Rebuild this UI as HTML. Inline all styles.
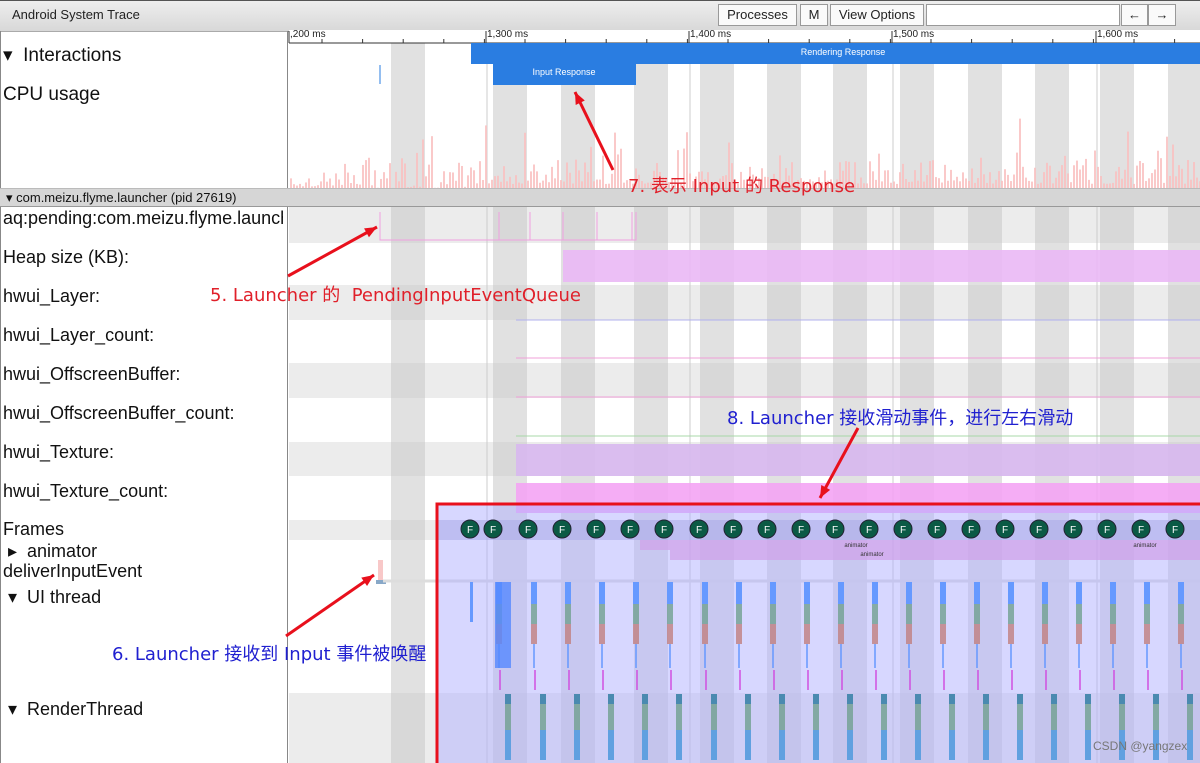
<!DOCTYPE html>
<html><head><meta charset="utf-8"><style>
body{margin:0;width:1200px;height:763px;overflow:hidden;background:#fff;font-family:"Liberation Sans","Noto Sans CJK SC",sans-serif;position:relative}
.a{position:absolute}
.lbl{position:absolute;left:3px;font-size:18px;color:#111;white-space:nowrap}
.btn{position:absolute;top:4px;height:20px;border:1px solid #999;background:#fafafa;font-size:13px;line-height:20px;text-align:center;color:#222}
.ann{position:absolute;font-size:18px;white-space:nowrap;font-family:"DejaVu Sans","Noto Sans CJK SC",sans-serif}
</style></head><body>
<div class="a" style="left:0;top:0;width:1200px;height:30px;background:linear-gradient(#eee,#d8d8d8);border-bottom:1px solid #aaa;border-top:1px solid #555"></div>
<div class="a" style="left:12px;top:7px;font-size:13px;color:#222">Android System Trace</div>
<div class="btn" style="left:718px;width:77px">Processes</div>
<div class="btn" style="left:800px;width:26px">M</div>
<div class="btn" style="left:830px;width:92px">View Options</div>
<div class="btn" style="left:926px;width:192px;background:#fff"></div>
<div class="btn" style="left:1121px;width:25px">←</div>
<div class="btn" style="left:1148px;width:26px">→</div>
<div class="a" style="left:0;top:31px;width:288px;height:732px;border-right:1px solid #888;border-left:1px solid #888;box-sizing:border-box"></div>
<svg class="a" style="left:0;top:0" width="1200" height="763" id="s"></svg>
<div class="lbl" style="top:44px;font-size:19px">▾&nbsp; Interactions</div>
<div class="lbl" style="top:84px;font-size:19px">CPU usage</div>
<div class="a" style="left:0;top:188px;width:1200px;height:19px;background:#d6d6d6;border-bottom:1px solid #999;border-top:1px solid #bbb;box-sizing:border-box"></div>
<div class="a" style="left:6px;top:190px;font-size:13px;color:#111">▾ com.meizu.flyme.launcher (pid 27619)</div>
<div class="lbl" style="top:208px;width:280px;overflow:hidden">aq:pending:com.meizu.flyme.launcher</div>
<div class="lbl" style="top:247px">Heap size (KB):</div>
<div class="lbl" style="top:286px">hwui_Layer:</div>
<div class="lbl" style="top:325px">hwui_Layer_count:</div>
<div class="lbl" style="top:364px">hwui_OffscreenBuffer:</div>
<div class="lbl" style="top:403px">hwui_OffscreenBuffer_count:</div>
<div class="lbl" style="top:442px">hwui_Texture:</div>
<div class="lbl" style="top:481px">hwui_Texture_count:</div>
<div class="lbl" style="top:519px">Frames</div>
<div class="lbl" style="top:541px">&nbsp;▸&nbsp; animator</div>
<div class="lbl" style="top:561px">deliverInputEvent</div>
<div class="lbl" style="top:587px">&nbsp;▾&nbsp; UI thread</div>
<div class="lbl" style="top:699px">&nbsp;▾&nbsp; RenderThread</div>
<div class="ann" style="left:628px;top:172px;color:#e0202a">7. 表示 Input 的 Response</div>
<div class="ann" style="left:210px;top:281px;color:#e0202a">5. Launcher 的&nbsp; PendingInputEventQueue</div>
<div class="ann" style="left:727px;top:404px;color:#2020d0">8. Launcher 接收滑动事件，进行左右滑动</div>
<div class="ann" style="left:112px;top:640px;color:#2020d0">6. Launcher 接收到 Input 事件被唤醒</div>
<div class="a" style="left:1093px;top:739px;font-size:12px;color:#777">CSDN @yangzex</div>
<script>
var s=document.getElementById('s'),h='';
function r(x,y,w,hh,c,o){h+='<rect x="'+x+'" y="'+y+'" width="'+w+'" height="'+hh+'" fill="'+c+'"'+(o?' opacity="'+o+'"':'')+'/>';}
function l(x1,y1,x2,y2,c,w){h+='<line x1="'+x1+'" y1="'+y1+'" x2="'+x2+'" y2="'+y2+'" stroke="'+c+'" stroke-width="'+(w||1)+'"/>';}
function t(x,y,tx,sz,c,a){h+='<text x="'+x+'" y="'+y+'" font-size="'+sz+'" fill="'+c+'" font-family="Liberation Sans,sans-serif"'+(a?' text-anchor="middle"':'')+'>'+tx+'</text>';}
[[207,36],[285,35],[363,35],[442,34],[520,20],[693,70]].forEach(function(a){r(289,a[0],911,a[1],'#ececec');});
[391,493,561,634,700,767,833,900,968,1035,1100,1168].forEach(function(x){r(x,43,34,720,'#c8c8c8',0.55);});
l(487,43,487,763,'#ccc');l(690,43,690,763,'#ccc');l(893,43,893,763,'#ccc');l(1097,43,1097,763,'#ccc');
r(289,30,911,13,'#fff');l(289,43,1200,43,'#333');
[[290,',200 ms'],[487,'1,300 ms'],[690,'1,400 ms'],[893,'1,500 ms'],[1097,'1,600 ms']].forEach(function(a){t(a[0],37,a[1],10,'#222');l(a[0]-1,31,a[0]-1,43,'#333');});
for(var x=322;x<1200;x+=40.6)l(x,39,x,43,'#333');
r(471,43,729,21,'#2a7de1');t(843,55,'Rendering Response',9,'#fff',1);
r(493,64,143,21,'#2a7de1');t(564,75,'Input Response',9,'#fff',1);
l(380,65,380,84,'#2a7de1');
var seed=7;function rnd(){seed=(seed*9301+49297)%233280;return seed/233280;}
for(var x=290;x<1200;x+=3){var hh=rnd()*rnd()*35+(rnd()<0.08?rnd()*55:0);if(x>470)hh+=4;r(x,188-hh,2,hh,'#f9c0c0',0.85);}
h+='<path d="M380 212 V240 H636 V212 M499 212V240 M530 212V240 M563 212V240 M597 212V240 M632 212V240" stroke="#f0a0e0" fill="none"/>';
r(563,250,637,32,'#eab8f5',0.9);
l(516,320,1200,320,'#b0b0ee');l(516,358,1200,358,'#f0a0d8');l(516,397,1200,397,'#f0a0d8');l(516,436,1200,436,'#a8d8a8');
r(516,444,684,32,'#d8b8f0',0.9);r(516,483,684,30,'#f4a4f4',0.9);
r(378,560,5,20,'#f8c8c8');r(376,580,10,4,'#88a8c8');l(383,581,1200,581,'#ddd',3);
r(438,505,762,258,'#b0b0ff',0.5);
r(438,520,762,20,'#9090e8',0.25);
r(640,540,560,10,'#d0a0e8',0.7);r(670,550,530,10,'#d0a0e8',0.7);
t(856,547,'animator',6,'#333',1);t(872,556,'animator',6,'#333',1);t(1145,547,'animator',6,'#333',1);
[493,528,562,596,630,664,699,733,767,801,835,869,903,937,971,1005,1039,1073,1107,1141,1175].forEach(function(x,i){
 r(x+3,582,6,22,'#6699ff');r(x+3,604,6,20,'#70a090',0.8);r(x+3,624,6,20,'#c08080',0.8);l(x+6,644,x+6,668,'#6699ff',1.5);l(x+7,670,x+7,690,'#d050e0',1.5);
 r(x+12,694,6,10,'#4a8ab0');r(x+12,704,6,26,'#70a090',0.8);r(x+12,730,6,30,'#60a0e0');
});
r(495,582,16,86,'#5588ff',0.8);
r(470,582,3,40,'#6699ff');
[470,493,528,562,596,630,664,699,733,767,801,835,869,903,937,971,1005,1039,1073,1107,1141,1175].forEach(function(x){
 h+='<circle cx="'+x+'" cy="529" r="9" fill="#0b5a45" stroke="#223" stroke-width="1"/>';t(x,533,'F',10,'#fff',1);});
h+='<rect x="437" y="504" width="770" height="262" fill="none" stroke="#e8101c" stroke-width="3"/>';
function ar(x1,y1,x2,y2){l(x1,y1,x2,y2,'#e8101c',3);var a=Math.atan2(y2-y1,x2-x1),L=13;
 h+='<polygon points="'+x2+','+y2+' '+(x2-L*Math.cos(a-0.4))+','+(y2-L*Math.sin(a-0.4))+' '+(x2-L*Math.cos(a+0.4))+','+(y2-L*Math.sin(a+0.4))+'" fill="#e8101c"/>';}
ar(613,170,575,92);ar(288,276,377,227);ar(858,428,820,498);ar(286,636,374,575);
s.innerHTML=h;
</script>
</body></html>
